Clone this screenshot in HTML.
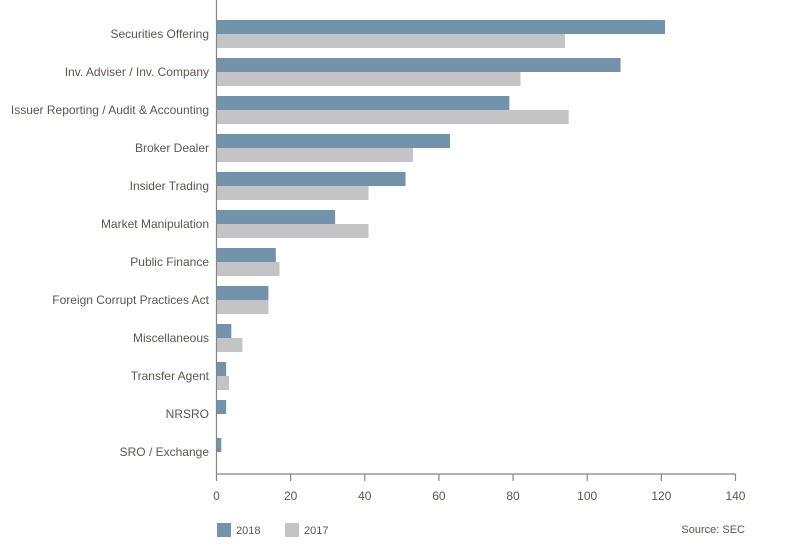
<!DOCTYPE html>
<html><head><meta charset="utf-8"><style>
html,body{margin:0;padding:0;background:#fff;}
svg{display:block;font-family:"Liberation Sans",sans-serif;}
</style></head><body>
<svg id="chart" width="804" height="552"></svg>
<script>
const categories=["Securities Offering","Inv. Adviser / Inv. Company","Issuer Reporting / Audit & Accounting","Broker Dealer","Insider Trading","Market Manipulation","Public Finance","Foreign Corrupt Practices Act","Miscellaneous","Transfer Agent","NRSRO","SRO / Exchange"];
const values2018=[121,109,79,63,51,32,16,14,4,2.6,2.6,1.3];
const values2017=[94,82,95,53,41,41,17,14,7,3.4,0,0];
const tickValues=[0,20,40,60,80,100,120,140];
const NS="http://www.w3.org/2000/svg";
const svg=document.getElementById('chart');
const x0=216.5, pxPer=3.707, rowTop=20, pitch=38, barH=14, axisBottom=474;
const xScale=v=>x0+v*pxPer;
const yRow=i=>rowTop+i*pitch;
function mk(tag,attrs){const e=document.createElementNS(NS,tag);for(const k in attrs)e.setAttribute(k,attrs[k]);svg.appendChild(e);return e;}
const txt="#5e554f";
categories.forEach((c,i)=>{
  const b1=mk('rect',{x:xScale(0),y:yRow(i),width:xScale(values2018[i])-xScale(0),height:barH,fill:'#7293aa'});
  
  
  const b2=mk('rect',{x:xScale(0),y:yRow(i)+barH,width:xScale(values2017[i])-xScale(0),height:barH,fill:'#c4c4c6'});
  
  
  const t=mk('text',{x:209,y:yRow(i)+barH+4,'text-anchor':'end','font-size':'12',fill:txt});
  t.textContent=c;
  
  
});
const yAxis=mk('line',{x1:x0,y1:0,x2:x0,y2:axisBottom,stroke:'#8a8582','stroke-width':1.2});


const xAxis=mk('line',{x1:x0,y1:axisBottom,x2:xScale(140),y2:axisBottom,stroke:'#8a8582','stroke-width':1.2});


tickValues.forEach(v=>{
  const tk=mk('line',{x1:xScale(v),y1:axisBottom,x2:xScale(v),y2:axisBottom+7,stroke:'#8a8582','stroke-width':1.2});
  
  
  const tl=mk('text',{x:xScale(v),y:500,'text-anchor':'middle','font-size':'12',fill:txt});
  tl.textContent=v;
  
  
});
const s1=mk('rect',{x:217,y:523,width:14,height:14,fill:'#7293aa'});


const l1=mk('text',{x:236,y:534,'font-size':'11',fill:txt});l1.textContent='2018';


const s2=mk('rect',{x:285,y:523,width:14,height:14,fill:'#c4c4c6'});


const l2=mk('text',{x:304,y:534,'font-size':'11',fill:txt});l2.textContent='2017';


const src=mk('text',{x:745,y:533,'text-anchor':'end','font-size':'11',fill:txt});src.textContent='Source: SEC';


</script>
</body></html>
